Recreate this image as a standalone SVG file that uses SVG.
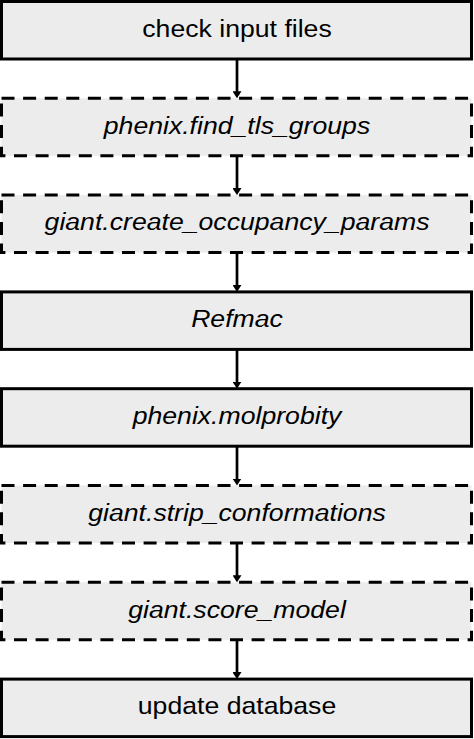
<svg xmlns="http://www.w3.org/2000/svg" width="474" height="739" viewBox="0 0 474 739">
<style>
.box{fill:#ececec;stroke:#000;stroke-width:3}
.dash{stroke-dasharray:13 8.6}
.lbl{font-family:"Liberation Sans",Arial,sans-serif;font-size:24px;fill:#000;text-anchor:middle}
.it{font-style:italic}
.conn{stroke:#000;stroke-width:2.7;fill:none;marker-end:url(#ah)}
</style>
<defs>
<marker id="ah" viewBox="0 0 7 9" refX="2" refY="4.5" markerWidth="7" markerHeight="9" orient="auto" markerUnits="userSpaceOnUse">
<path d="M0,0 L7,4.5 L0,9 z" fill="#000"/>
</marker>
</defs>
<rect width="474" height="739" fill="#fff"/>
<g id="connectors">
<line class="conn" x1="237" y1="59" x2="237" y2="93.3"/>
<line class="conn" x1="237" y1="155.8" x2="237" y2="190.1"/>
<line class="conn" x1="237" y1="252.6" x2="237" y2="286.9"/>
<line class="conn" x1="237" y1="349.4" x2="237" y2="383.7"/>
<line class="conn" x1="237" y1="446.2" x2="237" y2="480.5"/>
<line class="conn" x1="237" y1="543" x2="237" y2="577.3"/>
<line class="conn" x1="237" y1="639.8" x2="237" y2="674.1"/>
</g>
<g id="check_input_files">
<rect class="box" x="1.5" y="1.5" width="470" height="57.5"/>
<text class="lbl" transform="translate(237,36.75) scale(1.11,1)">check input files</text>
</g>
<g id="phenix_find_tls_groups">
<rect class="box dash" x="1.5" y="98.3" width="470" height="57.5"/>
<text class="lbl it" transform="translate(237,133.55) scale(1.11,1)">phenix.find_tls_groups</text>
</g>
<g id="giant_create_occupancy_params">
<rect class="box dash" x="1.5" y="195.1" width="470" height="57.5"/>
<text class="lbl it" transform="translate(237,230.35) scale(1.11,1)">giant.create_occupancy_params</text>
</g>
<g id="refmac">
<rect class="box" x="1.5" y="291.9" width="470" height="57.5"/>
<text class="lbl it" transform="translate(237,327.15) scale(1.11,1)">Refmac</text>
</g>
<g id="phenix_molprobity">
<rect class="box" x="1.5" y="388.7" width="470" height="57.5"/>
<text class="lbl it" transform="translate(237,423.95) scale(1.11,1)">phenix.molprobity</text>
</g>
<g id="giant_strip_conformations">
<rect class="box dash" x="1.5" y="485.5" width="470" height="57.5"/>
<text class="lbl it" transform="translate(237,520.75) scale(1.11,1)">giant.strip_conformations</text>
</g>
<g id="giant_score_model">
<rect class="box dash" x="1.5" y="582.3" width="470" height="57.5"/>
<text class="lbl it" transform="translate(237,617.55) scale(1.11,1)">giant.score_model</text>
</g>
<g id="update_database">
<rect class="box" x="1.5" y="679.1" width="470" height="57.5"/>
<text class="lbl" transform="translate(237,714.35) scale(1.11,1)">update database</text>
</g>
</svg>
